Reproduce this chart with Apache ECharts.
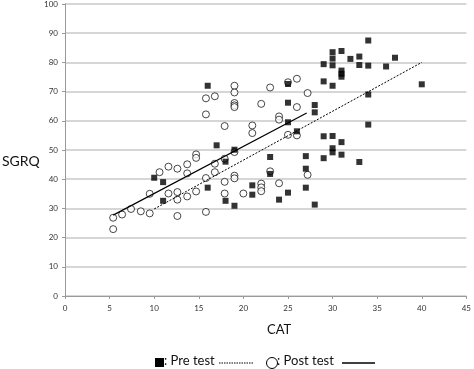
<!DOCTYPE html>
<html><head><meta charset="utf-8">
<script src="https://cdn.jsdelivr.net/npm/echarts@6/dist/echarts.min.js"></script>
<style>html,body{margin:0;padding:0;background:#fff}#c{width:474px;height:369px}</style>
</head><body><div id="c"></div>
<script>
// CAT (x) vs SGRQ (y)
const preTest = [
  [10,40.5],[11,39],[11,32.6],[16,72],[16,37.1],[17,51.6],[18,46],[18,32.6],[19,50.1],[19,30.9],
  [21,37.9],[21,34.7],[23,47.6],[23,41.8],[24,33],[25,72.6],[25,66.2],[25,59.5],[25,35.4],[26,56.4],
  [27,47.9],[27,43.6],[27,37.1],[28,65.4],[28,62.9],[28,31.3],[29,79.4],[29,73.5],[29,54.7],[29,47.2],
  [30,83.5],[30,81.3],[30,79],[30,72],[30,54.8],[30,50.6],[30,49.2],[31,83.9],[31,77.2],[31,76.1],
  [31,75.1],[31,52.7],[31,48.4],[32,81.2],[33,82],[33,79.1],[33,45.9],[34,87.5],[34,78.9],[34,69],
  [34,58.7],[36,78.6],[37,81.6],[40,72.5]
];
const postTest = [
  [5.4,26.8],[5.4,22.9],[6.4,27.9],[7.4,29.8],[8.5,29],[9.5,28.3],[9.5,35],[10.6,42.4],[11.6,44.3],[11.6,35.1],
  [12.6,43.6],[12.6,35.6],[12.6,33],[12.6,27.4],[13.7,45.1],[13.7,42],[13.7,34.1],[14.7,48.5],[14.7,47.3],[14.7,35.8],
  [15.8,67.7],[15.8,62.2],[15.8,40.4],[15.8,28.8],[16.8,68.4],[16.8,45.3],[16.8,42.4],[17.9,58.2],[17.9,47],[17.9,39.1],
  [17.9,35.1],[19,72],[19,69.7],[19,66.1],[19,65.3],[19,64.7],[19,49.3],[19,41.2],[19,40.3],[20,35.1],
  [21,58.4],[21,55.8],[22,65.8],[22,38.5],[22,37.2],[22,35.9],[23,71.4],[23,42.7],[24,61.5],[24,60.4],
  [24,38.6],[25,73.2],[25,55.2],[26,74.4],[26,64.7],[26,55],[27.2,69.5],[27.2,41.5]
];
const preFit = [[10,29.8],[40,80]];
const postFit = [[5.4,27.7],[27.1,62.7]];
const xLabel = 'CAT';
const yLabel = 'SGRQ';
const legendPre = ': Pre test';
const legendPost = ': Post test';

const FONT = 'Lato, "Open Sans", sans-serif';
const chart = echarts.init(document.getElementById('c'), null, {renderer:'canvas'});
chart.setOption({
  animation:false,
  backgroundColor:'#fff',
  grid:{left:65, right:4, top:4, bottom:73, containLabel:false},
  xAxis:{type:'value', min:0, max:45, interval:5,
    axisLine:{show:true, lineStyle:{color:'#9a9a9a', width:1}},
    axisTick:{show:true, length:3, lineStyle:{color:'#9a9a9a'}},
    axisLabel:{fontSize:8, color:'#333', margin:8, fontFamily:FONT},
    splitLine:{show:false}},
  yAxis:{type:'value', min:0, max:100, interval:10,
    axisLine:{show:true, lineStyle:{color:'#9a9a9a', width:1}},
    axisTick:{show:true, length:3, lineStyle:{color:'#9a9a9a'}},
    axisLabel:{fontSize:8, color:'#333', margin:7, fontFamily:FONT},
    splitLine:{show:true, lineStyle:{color:'#c8c8c8', width:1.5}}},
  series:[
    {name:'Post test', type:'scatter', data:postTest, symbol:'circle', symbolSize:7,
     itemStyle:{color:'#fff', borderColor:'#000', borderWidth:0.9}, z:3},
    {name:'Pre test', type:'scatter', data:preTest, symbol:'rect', symbolSize:6,
     itemStyle:{color:'#000'}, z:4},
    {name:'Pre fit', type:'line', data:preFit, symbol:'none',
     lineStyle:{color:'#000', width:1, type:[2,1.5]}, z:5},
    {name:'Post fit', type:'line', data:postFit, symbol:'none',
     lineStyle:{color:'#000', width:1.2}, z:5}
  ],
  graphic:[
    {type:'text', left:2, top:154, style:{text:yLabel, fontSize:14, fill:'#111', fontFamily:FONT}},
    {type:'text', left:267, top:323, style:{text:xLabel, fontSize:13, fill:'#111', fontFamily:FONT}},
    {type:'rect', shape:{x:155, y:358, width:9, height:9}, style:{fill:'#000'}},
    {type:'text', left:164, top:354, style:{text:legendPre, fontSize:13, fill:'#111', fontFamily:FONT}},
    {type:'line', shape:{x1:219, y1:363, x2:253, y2:363}, style:{stroke:'#000', lineWidth:1, lineDash:[1.5,1]}},
    {type:'circle', shape:{cx:272, cy:363, r:5.5}, style:{fill:'#fff', stroke:'#000', lineWidth:1}},
    {type:'text', left:277, top:354, style:{text:legendPost, fontSize:13, fill:'#111', fontFamily:FONT}},
    {type:'line', shape:{x1:342, y1:363, x2:375, y2:363}, style:{stroke:'#000', lineWidth:1.3}}
  ]
});
</script></body></html>
